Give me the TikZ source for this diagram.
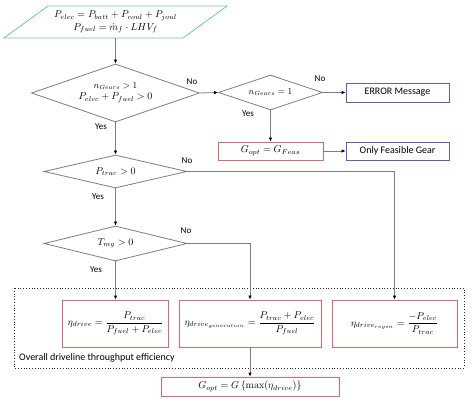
\documentclass[tikz,border=0pt]{standalone}
\usepackage{amsmath}
\usepackage[no-math]{fontspec}
\setmainfont{Carlito}
\usetikzlibrary{shapes.geometric,arrows.meta}
\definecolor{flgreen}{RGB}{110,200,165}
\definecolor{flred}{RGB}{225,100,110}
\definecolor{flblue}{RGB}{100,90,200}
\definecolor{flgray}{RGB}{125,125,125}
\begin{document}
\begin{tikzpicture}[x=1pt,y=-1pt,
  font=\fontsize{10}{12}\selectfont,
  dec/.style={diamond,draw=flgray,line width=0.8pt,inner sep=0pt,align=center},
  redbox/.style={rectangle,draw=flred,line width=0.8pt,inner sep=0pt,align=center},
  bluebox/.style={rectangle,draw=flblue,line width=0.8pt,inner sep=0pt,align=center},
  conn/.style={draw=flgray,line width=0.8pt,-{Latex[length=4pt,width=3.5pt,black]}},
  lab/.style={font=\fontsize{9}{10}\selectfont,inner sep=0pt}]
\useasboundingbox (0,0) rectangle (474,403);
% start parallelogram
\draw[flgreen,line width=0.8pt] (48,6) -- (227,6) -- (183,38) -- (4,38) -- cycle;
\node[inner sep=0pt,minimum height=32,align=center] (start) at (115.5,22)
  {$P_{elec}=P_{batt}+P_{coul}+P_{joul}$\\[0.5pt]$P_{fuel}=\dot{m}_f\cdot LHV_f$};
% decisions
\node[dec,shape aspect=2.9,minimum width=168,minimum height=58] (d1) at (115.5,93)
  {{\small$n_{Gears}>1$}\\[-1pt]$P_{elec}+P_{fuel}>0$};
\node[dec,shape aspect=3,minimum width=104,minimum height=35] (d2) at (270.5,92.5)
  {\small$n_{Gears}=1$};
\node[dec,shape aspect=4.3,minimum width=143,minimum height=33] (d3) at (115.5,171.5)
  {$P_{trac}>0$};
\node[dec,shape aspect=4.1,minimum width=143,minimum height=35] (d4) at (115.5,243.5)
  {$T_{mg}>0$};
% boxes
\node[bluebox,minimum width=103,minimum height=19] (err) at (397.5,92.5) {ERROR Message};
\node[redbox,minimum width=105,minimum height=18] (gopt) at (270.5,151) {$G_{opt}=G_{Feas}$};
\node[bluebox,minimum width=103,minimum height=18] (feas) at (397.5,151) {Only Feasible Gear};
% efficiency group
\draw[dotted,line width=0.8pt,black!85] (14,288) rectangle (464,368);
\node[anchor=west,inner sep=0pt] (grp) at (19,357.5) {Overall driveline throughput efficiency};
\node[redbox,minimum width=106,minimum height=47] (e1) at (115.5,323.5)
  {$\eta_{drive}=\dfrac{P_{trac}}{P_{fuel}+P_{elec}}$};
\node[redbox,minimum width=142,minimum height=47] (e2) at (250,323.5)
  {$\eta_{drive_{generation}}=\dfrac{P_{trac}+P_{elec}}{P_{fuel}}$};
\node[redbox,minimum width=125,minimum height=47] (e3) at (394.5,323.5)
  {$\eta_{drive_{regen}}=\dfrac{-P_{elec}}{P_{trac}}$};
\node[redbox,minimum width=178,minimum height=19] (fin) at (250,386.5)
  {$G_{opt}=G\,\{\max(\eta_{drive})\}$};
% connectors
\draw[conn] (start.south) -- (d1.north);
\draw[conn] (d1.east) -- (d2.west);
\draw[conn] (d2.east) -- (err.west);
\draw[conn] (d2.south) -- (gopt.north);
\draw[conn] (gopt.east) -- (feas.west);
\draw[conn] (d1.south) -- (d3.north);
\draw[conn] (d3.south) -- (d4.north);
\draw[conn] (d4.south) -- (e1.north);
\draw[conn] (d3.east) -| (e3.north);
\draw[conn] (d4.east) -| (e2.north);
\draw[conn] (e2.south) -- (fin.north);
% labels
\node[lab] (l1) at (192,82) {No};
\node[lab] (l2) at (101,127) {Yes};
\node[lab] (l3) at (320,79) {No};
\node[lab] (l4) at (248,114) {Yes};
\node[lab] (l5) at (187,161) {No};
\node[lab] (l6) at (98,197) {Yes};
\node[lab] (l7) at (186,231) {No};
\node[lab] (l8) at (96,270) {Yes};
\end{tikzpicture}
\end{document}
